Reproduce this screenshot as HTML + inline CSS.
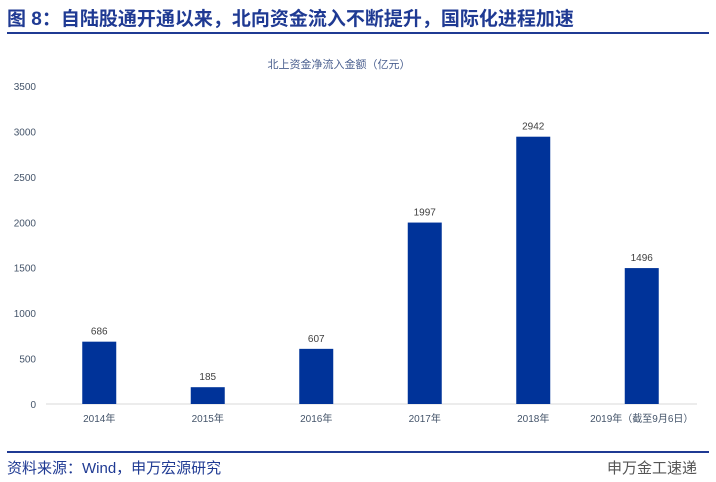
<!DOCTYPE html>
<html><head><meta charset="utf-8"><style>
body{margin:0;background:#fff;width:716px;height:482px;overflow:hidden;font-family:"Liberation Sans","Noto Sans CJK SC",sans-serif;}
</style></head><body>
<svg width="716" height="482" style="position:absolute;left:0;top:0">
<text x="7" y="25" font-size="19" font-weight="bold" fill="#1f3a93" font-family="Liberation Sans,Noto Sans CJK SC,sans-serif">图 8：自陆股通开通以来，北向资金流入不断提升，国际化进程加速</text>
<rect x="7" y="32" width="702" height="2" fill="#1f3a93"/>
<text x="339" y="68" font-size="11" fill="#4a5f8f" text-anchor="middle">北上资金净流入金额（亿元）</text>
<g id="axes"></g>
<g id="bars"></g>
<rect x="7" y="451" width="702" height="2" fill="#1f3a93"/>
<text x="7" y="473" font-size="15" fill="#1f3a93">资料来源：Wind，申万宏源研究</text>
<text x="697" y="473" font-size="15" fill="#555" text-anchor="end">申万金工速递</text>
</svg>
<script>
const categories=["2014年","2015年","2016年","2017年","2018年","2019年（截至9月6日）"];
const values=[686,185,607,1997,2942,1496];
const yTicks=[0,500,1000,1500,2000,2500,3000,3500];
const ns="http://www.w3.org/2000/svg";
const x0=46,x1=697,yBase=404,yTop=86,yMax=3500;
const y=v=>yBase-(v/yMax)*(yBase-yTop);
const step=(x1-x0)/categories.length;
const xc=i=>x0+step*(i+0.5)-1;
function mk(t,a,p){const e=document.createElementNS(ns,t);for(const k in a)e.setAttribute(k,a[k]);p.appendChild(e);return e;}
const ax=document.getElementById('axes'),bg=document.getElementById('bars');
yTicks.forEach(v=>{const t=mk('text',{x:36,y:y(v)+4,'font-size':10,fill:'#44546a','text-anchor':'end'},ax);t.textContent=v;

});
const bl=mk('line',{x1:x0,x2:x1,y1:yBase,y2:yBase,stroke:'#d9d9d9','stroke-width':1},ax);


categories.forEach((c,i)=>{
const t=mk('text',{x:xc(i),y:422,'font-size':10,fill:'#44546a','text-anchor':'middle'},ax);t.textContent=c;


const r=mk('rect',{x:xc(i)-17,y:y(values[i]),width:34,height:yBase-y(values[i]),fill:'#003399'},bg);


const l=mk('text',{x:xc(i),y:y(values[i])-7,'font-size':10,fill:'#404040','text-anchor':'middle'},bg);l.textContent=values[i];


});
</script>
</body></html>
